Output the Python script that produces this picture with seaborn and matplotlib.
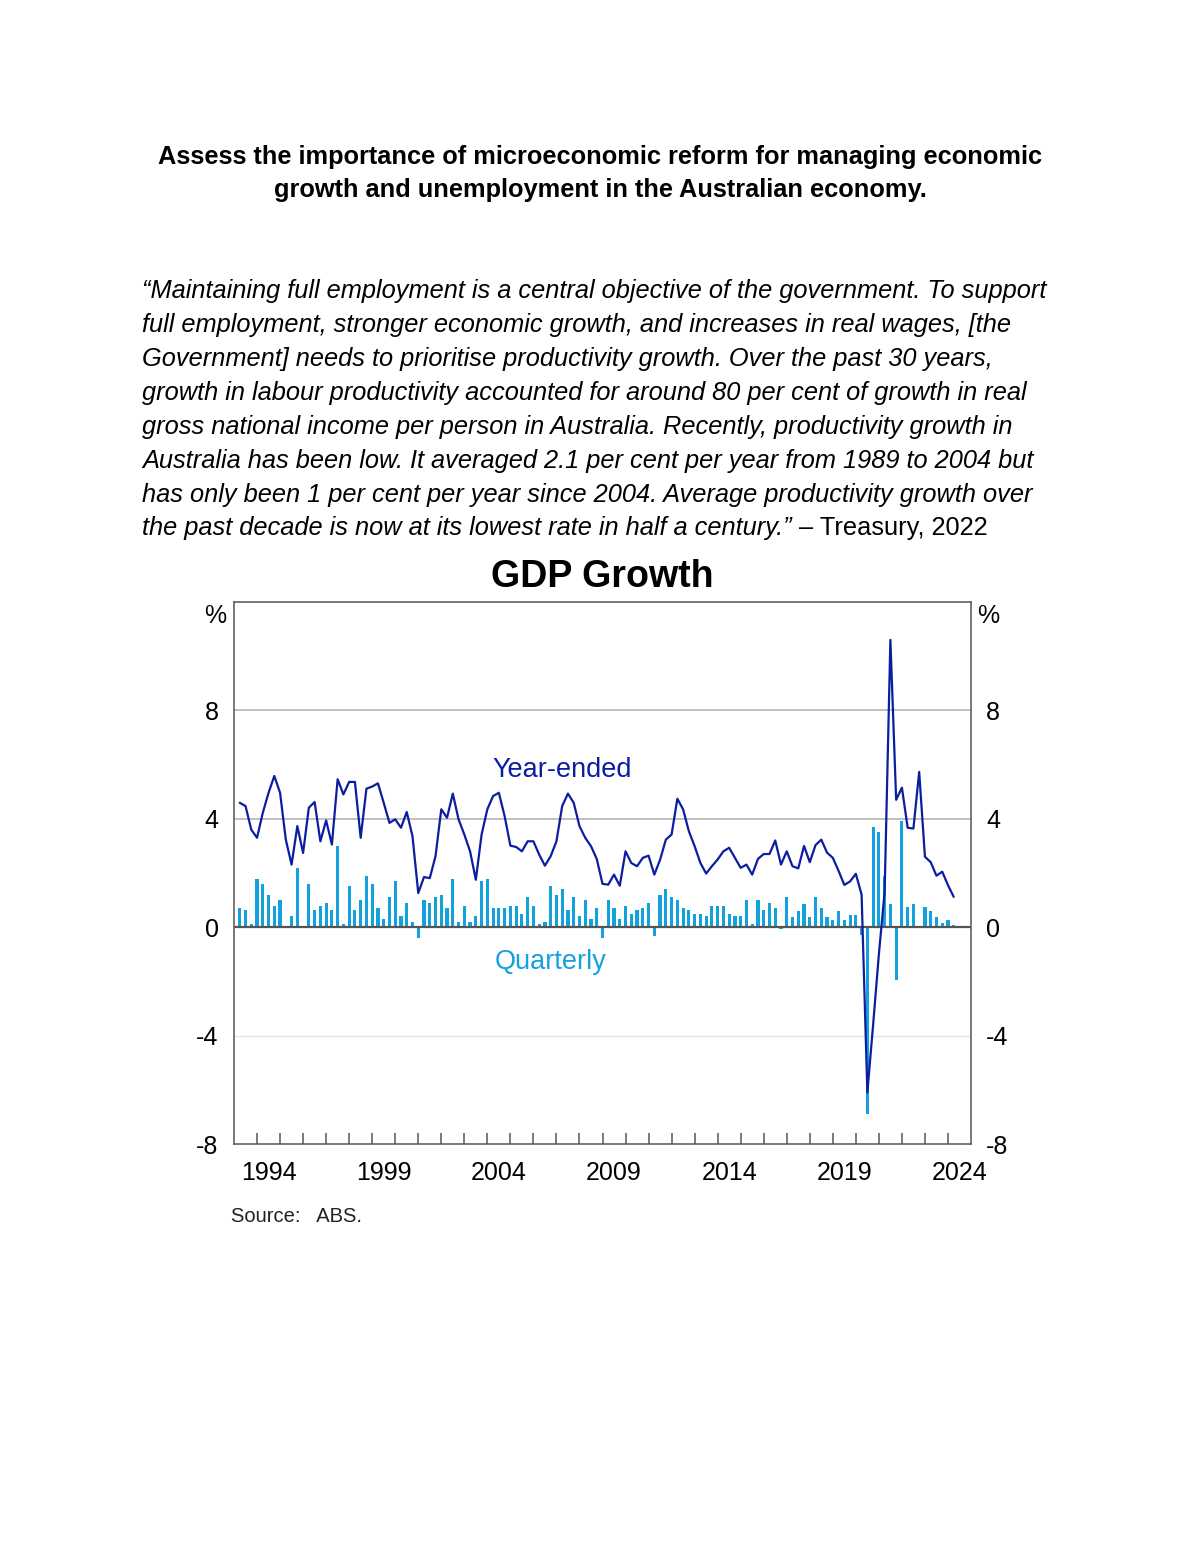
import numpy as np
import pandas as pd
import matplotlib
matplotlib.use("Agg")
import matplotlib.pyplot as plt
import matplotlib.transforms as mtransforms
import seaborn as sns

# Datos: PIB de Australia, crecimiento trimestral y anual (%), 1993Q1 - 2024Q1
quarters = pd.period_range("1993Q1", "2024Q1", freq="Q")

quarterly = [
    0.70, 0.62, 0.11, 1.79, 1.60, 1.20, 0.79, 0.99, 0.03, 0.40,
    2.19, 0.03, 1.60, 0.62, 0.79, 0.89, 0.62, 3.01, 0.11, 1.51,
    0.62, 0.99, 1.88, 1.60, 0.70, 0.30, 1.11, 1.72, 0.40, 0.89,
    0.21, -0.41, 0.99, 0.89, 1.11, 1.20, 0.70, 1.79, 0.21, 0.79,
    0.21, 0.40, 1.72, 1.79, 0.70, 0.70, 0.70, 0.79, 0.79, 0.48,
    1.11, 0.79, 0.11, 0.21, 1.51, 1.20, 1.41, 0.62, 1.11, 0.40,
    0.99, 0.30, 0.70, -0.41, 0.99, 0.70, 0.30, 0.79, 0.48, 0.62,
    0.70, 0.89, -0.31, 1.20, 1.41, 1.11, 0.99, 0.70, 0.62, 0.48,
    0.48, 0.40, 0.79, 0.79, 0.79, 0.48, 0.40, 0.40, 0.99, 0.11,
    0.99, 0.62, 0.89, 0.70, -0.05, 1.10, 0.38, 0.60, 0.87, 0.38,
    1.10, 0.70, 0.38, 0.28, 0.60, 0.28, 0.46, 0.46, -0.30, -6.90,
    3.71, 3.51, 1.90, 0.85, -1.95, 3.92, 0.75, 0.85, 0.06, 0.76,
    0.58, 0.37, 0.16, 0.28, 0.09,
]

year_ended = [
    4.59, 4.47, 3.60, 3.30, 4.22, 4.96, 5.58, 4.96, 3.23, 2.31,
    3.73, 2.74, 4.41, 4.62, 3.17, 3.94, 3.05, 5.46, 4.90, 5.36,
    5.36, 3.30, 5.11, 5.19, 5.31, 4.59, 3.85, 3.98, 3.67, 4.25,
    3.36, 1.26, 1.85, 1.81, 2.62, 4.35, 4.04, 4.93, 3.98, 3.42,
    2.80, 1.75, 3.42, 4.35, 4.84, 4.96, 4.10, 3.01, 2.96, 2.80,
    3.17, 3.17, 2.68, 2.27, 2.62, 3.17, 4.47, 4.93, 4.59, 3.73,
    3.30, 2.99, 2.52, 1.60, 1.57, 1.94, 1.53, 2.80, 2.37, 2.25,
    2.56, 2.64, 1.94, 2.49, 3.23, 3.42, 4.74, 4.35, 3.54, 2.99,
    2.37, 1.98, 2.25, 2.50, 2.80, 2.93, 2.56, 2.19, 2.31, 1.94,
    2.52, 2.70, 2.70, 3.20, 2.31, 2.80, 2.25, 2.17, 3.00, 2.40,
    3.03, 3.23, 2.75, 2.56, 2.08, 1.56, 1.69, 1.97, 1.20, -6.10,
    -3.60, -1.00, 1.30, 10.60, 4.70, 5.15, 3.67, 3.64, 5.73, 2.60,
    2.40, 1.90, 2.05, 1.55, 1.12,
]

y_ticks = [-8, -4, 0, 4, 8]
x_labels = [1994, 1999, 2004, 2009, 2014, 2019, 2024]

# fecha = fin de trimestre en años decimales
qx = np.array([q.year + q.quarter / 4 for q in quarters])

navy = "#0b1ea0"
light = "#14a2de"
axis_grey = "#555555"

sns.set_theme(style="white")
plt.rcParams["font.family"] = ["Liberation Sans", "DejaVu Sans"]
plt.rcParams["text.color"] = "black"

fig = plt.figure(figsize=(12, 15.53), dpi=100)

# Texto de la pregunta
fig.text(0.5, 1 - 157 / 1553, "Assess the importance of microeconomic reform for managing economic",
         ha="center", va="center", fontsize=18.3, fontweight="bold")
fig.text(0.5, 1 - 190 / 1553, "growth and unemployment in the Australian economy.",
         ha="center", va="center", fontsize=18.3, fontweight="bold")

quote_lines = [
    "\u201cMaintaining full employment is a central objective of the government. To support",
    "full employment, stronger economic growth, and increases in real wages, [the",
    "Government] needs to prioritise productivity growth. Over the past 30 years,",
    "growth in labour productivity accounted for around 80 per cent of growth in real",
    "gross national income per person in Australia. Recently, productivity growth in",
    "Australia has been low. It averaged 2.1 per cent per year from 1989 to 2004 but",
    "has only been 1 per cent per year since 2004. Average productivity growth over",
    "the past decade is now at its lowest rate in half a century.\u201d",
]
line_y = [291, 325, 359, 393, 427, 461, 495, 528]
last = None
for txt, yy in zip(quote_lines, line_y):
    last = fig.text(142 / 1200, 1 - yy / 1553, txt, ha="left", va="center",
                    fontsize=18.3, fontstyle="italic")

renderer = fig.canvas.get_renderer()
bb = last.get_window_extent(renderer)
fig.text(bb.x1 / fig.bbox.width, 1 - 528 / 1553, " \u2013 Treasury, 2022",
         ha="left", va="center", fontsize=18.3)

# Título del gráfico
fig.text(602 / 1200, 1 - 577 / 1553, "GDP Growth", ha="center", va="center",
         fontsize=27, fontweight="bold")

ax = fig.add_axes([234 / 1200, 1 - 1144 / 1553, (971 - 234) / 1200, (1144 - 602) / 1553])

# líneas de referencia
for yv, col, lw in [(8, "#b5b5b5", 1.2), (4, "#b5b5b5", 1.2), (-4, "#e4e4e4", 1.0)]:
    ax.axhline(yv, color=col, lw=lw, zorder=0)

sns.barplot(x=qx, y=quarterly, native_scale=True, width=0.55, color=light,
            saturation=1, errorbar=None, linewidth=0, ax=ax, zorder=2)
ax.axhline(0, color=axis_grey, lw=1.6, zorder=3)
sns.lineplot(x=qx, y=year_ended, color=navy, linewidth=1.6, ax=ax, zorder=4)

ax.set_xlim(1993, 2025)
ax.set_ylim(-8, 12)
ax.set_xlabel("")
ax.set_ylabel("")

ax.set_yticks(y_ticks)
ax.set_yticklabels([str(t) for t in y_ticks])
ax.tick_params(axis="y", left=False, right=False, labelleft=True, labelright=True,
               labelsize=18, pad=5, colors="black")

ax.set_xticks(np.arange(1994, 2025))
ax.set_xticklabels([])
ax.set_xticks([y + 0.5 for y in x_labels], minor=True)
ax.set_xticklabels([str(y) for y in x_labels], minor=True)
ax.tick_params(axis="x", which="major", direction="in", length=8, width=1.1,
               color=axis_grey, bottom=True, top=False)
ax.tick_params(axis="x", which="minor", length=0, labelsize=18, pad=12,
               labelcolor="black")

for s in ax.spines.values():
    s.set_visible(True)
    s.set_color(axis_grey)
    s.set_linewidth(1.1)

trans_l = mtransforms.blended_transform_factory(ax.transAxes, ax.transData)
ax.text(-0.01, 11.5, "%", transform=trans_l, ha="right", va="center", fontsize=18)
ax.text(1.008, 11.5, "%", transform=trans_l, ha="left", va="center", fontsize=18)

ax.text(2007.26, 5.8, "Year-ended", color=navy, ha="center", va="center", fontsize=19.5)
ax.text(2006.74, -1.28, "Quarterly", color=light, ha="center", va="center", fontsize=19.5)

fig.text(231 / 1200, 1 - 1216 / 1553, "Source:   ABS.", ha="left", va="center",
         fontsize=14.5, color="#222222")

fig.savefig("out.png", dpi=100)
